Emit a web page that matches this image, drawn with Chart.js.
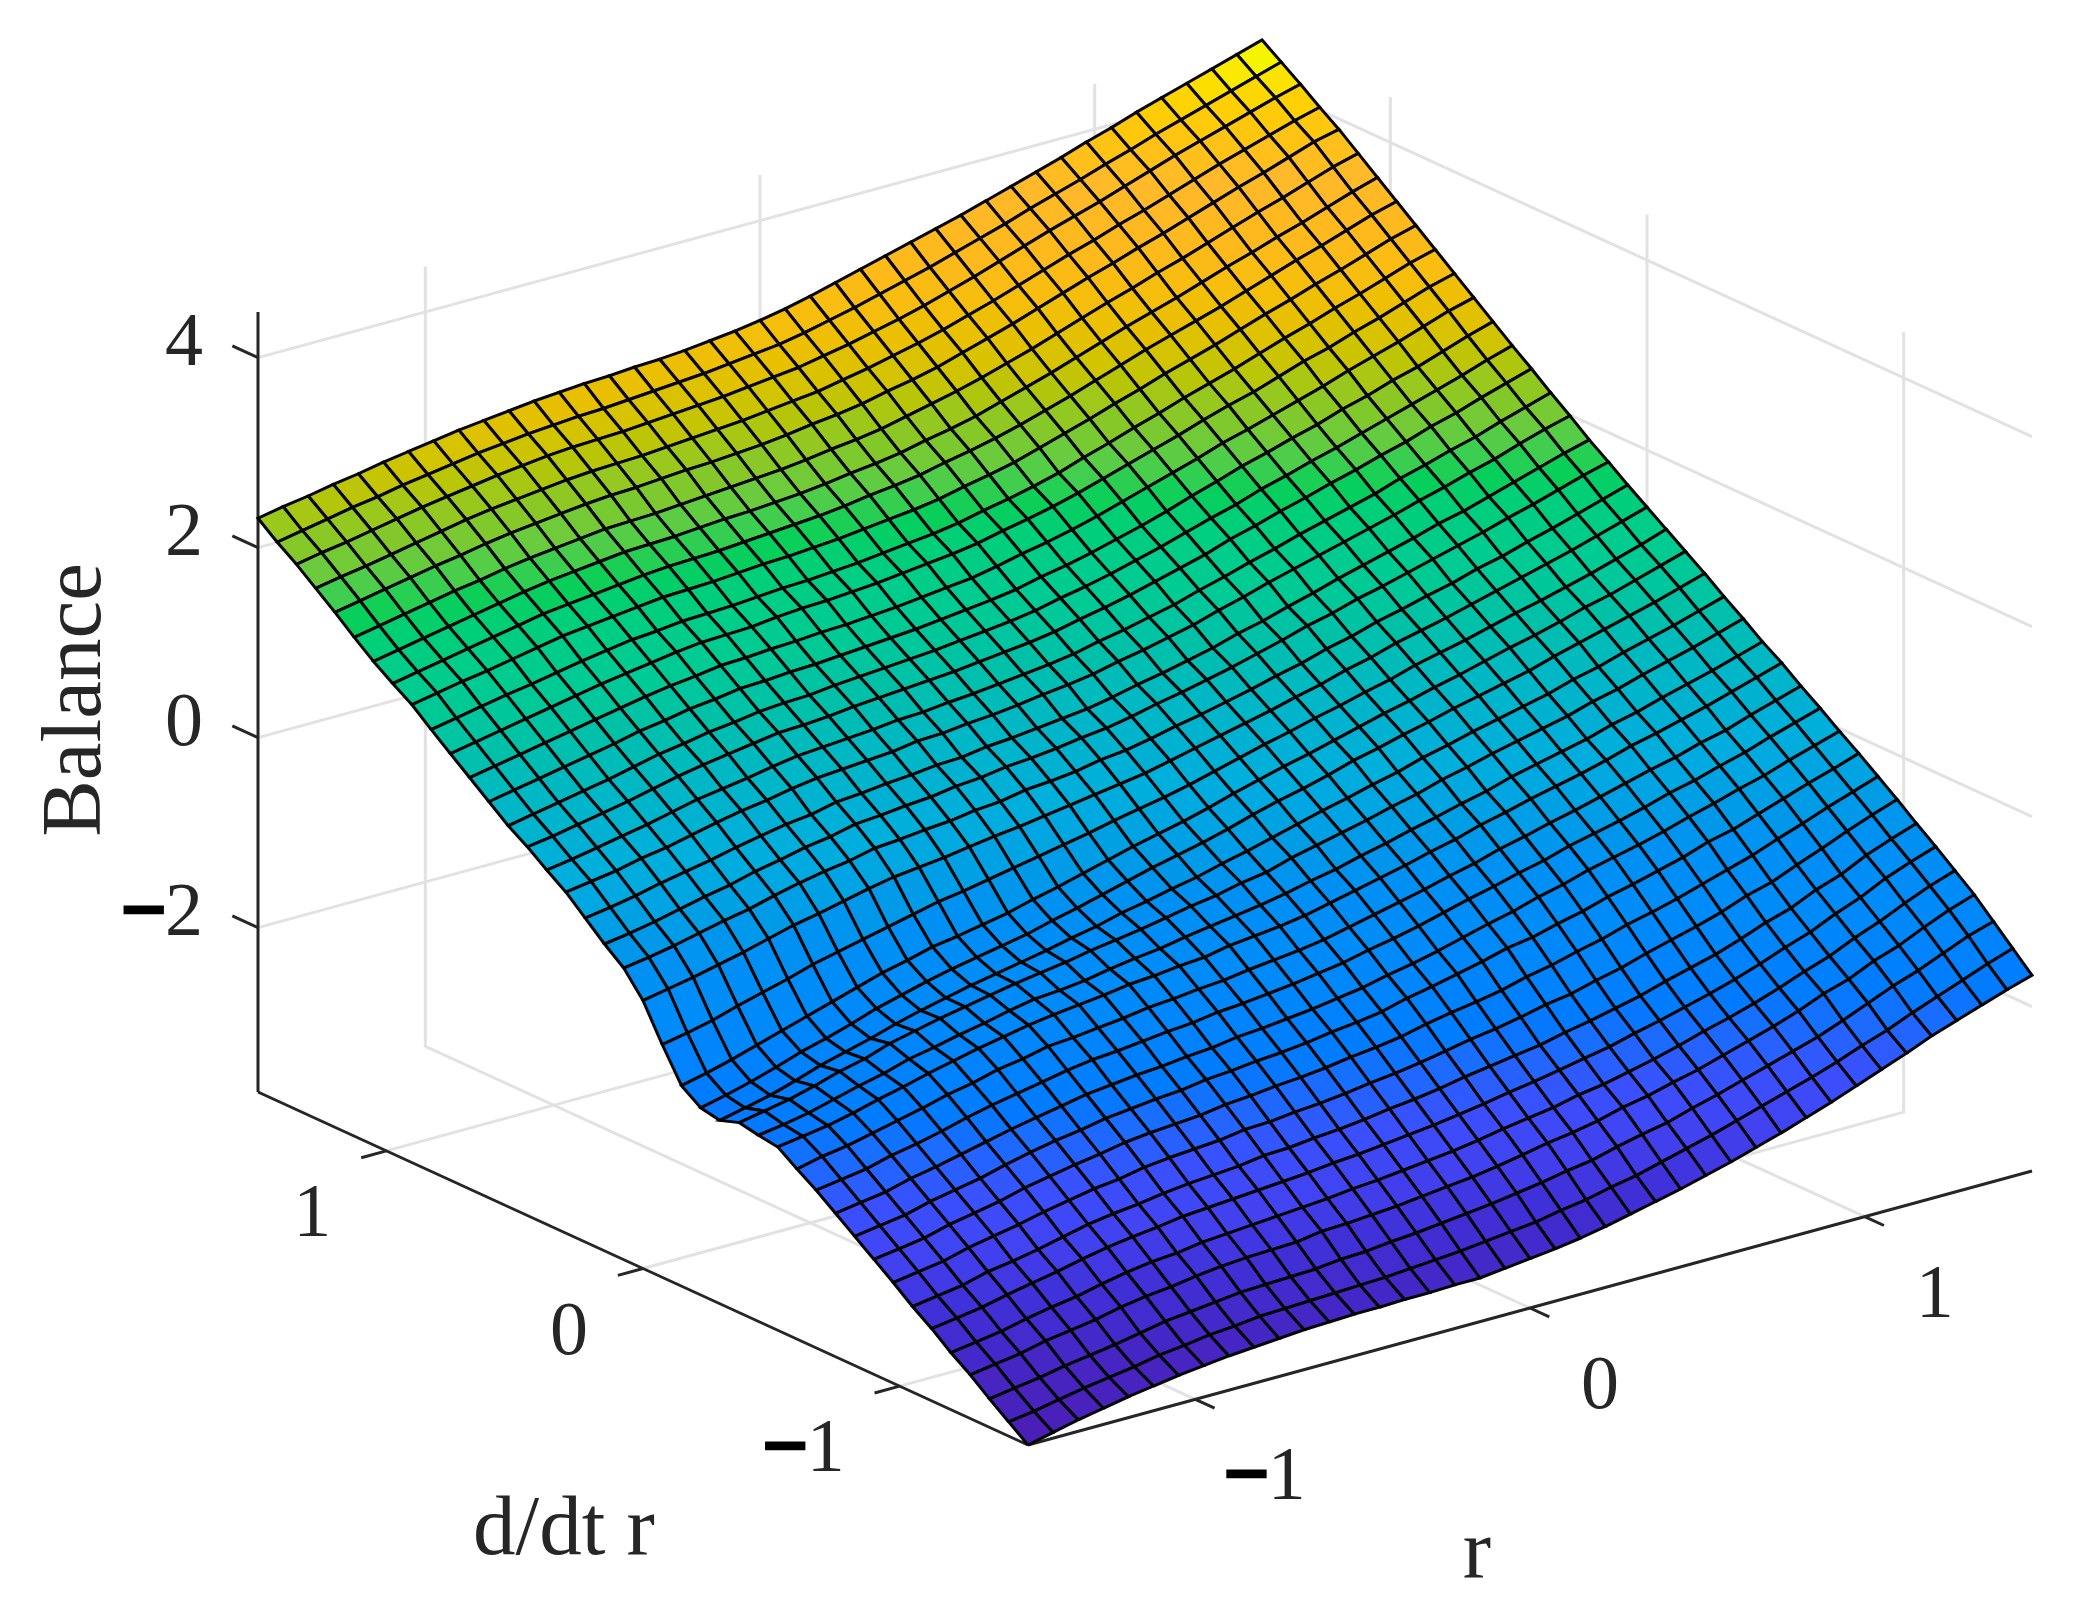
<!DOCTYPE html>
<html>
<head>
<meta charset="utf-8">
<title>Balance surface</title>
<script src="https://cdn.jsdelivr.net/npm/chart.js@4/dist/chart.umd.min.js"></script>
<style>
  html, body { margin: 0; padding: 0; background: #fff; overflow: hidden; }
  #chart { display: block; }
</style>
</head>
<body>
<canvas id="chart" width="2099" height="1611"></canvas>
<script>
const rValues = [-1.5,-1.425,-1.35,-1.275,-1.2,-1.125,-1.05,-0.975,-0.9,-0.825,-0.75,-0.675,-0.6,-0.525,-0.45,-0.375,-0.3,-0.225,-0.15,-0.075,0,0.075,0.15,0.225,0.3,0.375,0.45,0.525,0.6,0.675,0.75,0.825,0.9,0.975,1.05,1.125,1.2,1.275,1.35,1.425,1.5];
const rdotValues = rValues.slice();

// balance[j][i]: j runs along d/dt r, i along r
const balance = [
[-3.73,-3.67,-3.61,-3.56,-3.51,-3.47,-3.43,-3.40,-3.37,-3.35,-3.33,-3.31,-3.30,-3.29,-3.29,-3.28,-3.28,-3.27,-3.27,-3.24,-3.21,-3.18,-3.14,-3.09,-3.03,-2.97,-2.91,-2.84,-2.77,-2.69,-2.61,-2.52,-2.43,-2.33,-2.23,-2.13,-2.02,-1.93,-1.84,-1.75,-1.67],
[-3.58,-3.54,-3.49,-3.44,-3.40,-3.36,-3.31,-3.28,-3.24,-3.22,-3.19,-3.18,-3.17,-3.16,-3.15,-3.14,-3.12,-3.10,-3.08,-3.05,-3.02,-2.99,-2.94,-2.90,-2.84,-2.79,-2.72,-2.65,-2.58,-2.50,-2.42,-2.34,-2.26,-2.17,-2.07,-1.98,-1.87,-1.77,-1.67,-1.57,-1.48],
[-3.43,-3.39,-3.35,-3.30,-3.26,-3.22,-3.17,-3.12,-3.09,-3.06,-3.03,-3.02,-3.01,-3.00,-2.97,-2.96,-2.93,-2.91,-2.88,-2.85,-2.82,-2.78,-2.74,-2.69,-2.65,-2.58,-2.52,-2.47,-2.39,-2.32,-2.24,-2.16,-2.08,-2.00,-1.90,-1.79,-1.68,-1.59,-1.48,-1.37,-1.29],
[-3.27,-3.23,-3.19,-3.13,-3.09,-3.05,-2.99,-2.95,-2.92,-2.88,-2.85,-2.83,-2.82,-2.81,-2.77,-2.76,-2.74,-2.72,-2.69,-2.66,-2.63,-2.59,-2.54,-2.49,-2.45,-2.40,-2.33,-2.28,-2.21,-2.15,-2.07,-1.99,-1.91,-1.82,-1.71,-1.63,-1.51,-1.42,-1.30,-1.19,-1.10],
[-3.13,-3.09,-3.05,-2.99,-2.94,-2.90,-2.84,-2.79,-2.75,-2.73,-2.69,-2.67,-2.65,-2.63,-2.61,-2.59,-2.56,-2.54,-2.51,-2.48,-2.45,-2.41,-2.36,-2.32,-2.28,-2.22,-2.18,-2.12,-2.06,-1.99,-1.91,-1.84,-1.76,-1.67,-1.57,-1.48,-1.36,-1.26,-1.14,-1.03,-0.94],
[-2.97,-2.93,-2.89,-2.83,-2.78,-2.73,-2.67,-2.62,-2.58,-2.55,-2.51,-2.49,-2.47,-2.45,-2.43,-2.41,-2.38,-2.36,-2.33,-2.30,-2.27,-2.23,-2.19,-2.14,-2.10,-2.05,-2.00,-1.95,-1.88,-1.82,-1.75,-1.68,-1.60,-1.51,-1.41,-1.32,-1.20,-1.10,-0.97,-0.87,-0.78],
[-2.83,-2.79,-2.75,-2.68,-2.64,-2.59,-2.53,-2.47,-2.43,-2.40,-2.36,-2.33,-2.31,-2.29,-2.25,-2.24,-2.21,-2.19,-2.16,-2.12,-2.09,-2.05,-2.00,-1.96,-1.92,-1.88,-1.82,-1.77,-1.71,-1.65,-1.57,-1.50,-1.43,-1.34,-1.24,-1.16,-1.04,-0.95,-0.82,-0.72,-0.63],
[-2.67,-2.63,-2.59,-2.52,-2.47,-2.42,-2.36,-2.31,-2.26,-2.23,-2.18,-2.15,-2.13,-2.11,-2.07,-2.06,-2.03,-2.01,-1.98,-1.94,-1.91,-1.87,-1.82,-1.77,-1.73,-1.68,-1.62,-1.58,-1.51,-1.45,-1.37,-1.30,-1.23,-1.15,-1.05,-0.98,-0.87,-0.77,-0.66,-0.56,-0.47],
[-2.52,-2.48,-2.44,-2.37,-2.32,-2.27,-2.20,-2.15,-2.10,-2.06,-2.01,-1.98,-1.96,-1.94,-1.90,-1.88,-1.85,-1.83,-1.80,-1.76,-1.73,-1.69,-1.63,-1.58,-1.54,-1.49,-1.42,-1.37,-1.30,-1.24,-1.16,-1.10,-1.03,-0.95,-0.87,-0.79,-0.69,-0.60,-0.50,-0.41,-0.32],
[-2.37,-2.33,-2.29,-2.22,-2.17,-2.12,-2.05,-1.99,-1.94,-1.90,-1.85,-1.82,-1.79,-1.77,-1.73,-1.71,-1.68,-1.66,-1.63,-1.59,-1.56,-1.52,-1.45,-1.40,-1.34,-1.28,-1.21,-1.17,-1.10,-1.04,-0.96,-0.90,-0.83,-0.76,-0.67,-0.61,-0.52,-0.43,-0.34,-0.26,-0.17],
[-2.22,-2.18,-2.14,-2.07,-2.02,-1.96,-1.90,-1.84,-1.79,-1.74,-1.69,-1.66,-1.63,-1.61,-1.58,-1.56,-1.52,-1.50,-1.47,-1.44,-1.40,-1.36,-1.30,-1.25,-1.19,-1.12,-1.05,-0.99,-0.91,-0.85,-0.77,-0.71,-0.65,-0.58,-0.50,-0.43,-0.35,-0.28,-0.19,-0.11,-0.03],
[-2.07,-2.03,-1.99,-1.92,-1.87,-1.81,-1.74,-1.68,-1.63,-1.58,-1.53,-1.49,-1.47,-1.44,-1.41,-1.39,-1.35,-1.33,-1.30,-1.27,-1.23,-1.19,-1.13,-1.08,-1.02,-0.95,-0.88,-0.82,-0.75,-0.69,-0.61,-0.55,-0.49,-0.42,-0.34,-0.28,-0.20,-0.13,-0.04,0.04,0.12],
[-1.94,-1.88,-1.84,-1.78,-1.72,-1.66,-1.59,-1.54,-1.47,-1.43,-1.37,-1.35,-1.32,-1.29,-1.25,-1.23,-1.20,-1.18,-1.14,-1.11,-1.08,-1.04,-0.98,-0.92,-0.86,-0.80,-0.73,-0.67,-0.59,-0.53,-0.46,-0.40,-0.33,-0.26,-0.19,-0.13,-0.05,0.01,0.10,0.18,0.26],
[-1.80,-1.76,-1.72,-1.66,-1.59,-1.53,-1.46,-1.40,-1.34,-1.29,-1.24,-1.20,-1.17,-1.14,-1.10,-1.08,-1.05,-1.03,-0.98,-0.95,-0.92,-0.88,-0.82,-0.76,-0.70,-0.64,-0.57,-0.51,-0.43,-0.37,-0.30,-0.24,-0.18,-0.11,-0.03,0.03,0.10,0.17,0.25,0.33,0.41],
[-1.77,-1.73,-1.68,-1.61,-1.54,-1.48,-1.40,-1.35,-1.29,-1.24,-1.18,-1.13,-1.11,-1.08,-1.03,-0.99,-0.96,-0.91,-0.87,-0.83,-0.79,-0.74,-0.68,-0.63,-0.56,-0.50,-0.43,-0.37,-0.30,-0.24,-0.16,-0.10,-0.04,0.02,0.10,0.16,0.24,0.31,0.38,0.46,0.54],
[-1.73,-1.68,-1.63,-1.56,-1.48,-1.42,-1.33,-1.27,-1.21,-1.16,-1.11,-1.06,-1.02,-0.98,-0.93,-0.89,-0.85,-0.80,-0.75,-0.71,-0.65,-0.61,-0.53,-0.47,-0.41,-0.35,-0.28,-0.22,-0.14,-0.08,-0.01,0.05,0.11,0.17,0.25,0.31,0.39,0.46,0.53,0.61,0.69],
[-1.80,-1.74,-1.68,-1.60,-1.51,-1.44,-1.37,-1.29,-1.22,-1.16,-1.10,-1.05,-1.00,-0.95,-0.89,-0.84,-0.77,-0.72,-0.66,-0.61,-0.54,-0.48,-0.41,-0.34,-0.27,-0.21,-0.14,-0.08,0.00,0.06,0.13,0.19,0.25,0.31,0.39,0.45,0.53,0.60,0.67,0.75,0.83],
[-1.76,-1.70,-1.63,-1.55,-1.46,-1.39,-1.31,-1.22,-1.15,-1.08,-1.02,-0.97,-0.92,-0.87,-0.80,-0.74,-0.67,-0.60,-0.53,-0.47,-0.41,-0.34,-0.26,-0.19,-0.13,-0.06,0.02,0.08,0.15,0.21,0.28,0.34,0.40,0.46,0.54,0.61,0.68,0.75,0.82,0.90,0.98],
[-1.62,-1.56,-1.49,-1.41,-1.33,-1.25,-1.17,-1.09,-1.01,-0.95,-0.88,-0.84,-0.79,-0.74,-0.67,-0.61,-0.54,-0.47,-0.40,-0.34,-0.28,-0.21,-0.13,-0.06,0.01,0.07,0.14,0.21,0.28,0.34,0.41,0.47,0.54,0.61,0.67,0.74,0.82,0.88,0.96,1.04,1.12],
[-1.28,-1.23,-1.17,-1.09,-1.02,-0.95,-0.87,-0.81,-0.75,-0.69,-0.63,-0.57,-0.53,-0.48,-0.43,-0.38,-0.33,-0.28,-0.22,-0.17,-0.12,-0.06,0.01,0.08,0.15,0.21,0.28,0.34,0.41,0.47,0.55,0.61,0.67,0.74,0.81,0.87,0.94,1.01,1.09,1.17,1.26],
[-0.91,-0.86,-0.81,-0.75,-0.69,-0.62,-0.55,-0.50,-0.44,-0.38,-0.33,-0.30,-0.27,-0.23,-0.19,-0.16,-0.12,-0.08,-0.04,0.00,0.04,0.10,0.16,0.22,0.28,0.34,0.41,0.47,0.55,0.61,0.69,0.75,0.81,0.88,0.95,1.02,1.09,1.16,1.24,1.32,1.40],
[-0.66,-0.62,-0.57,-0.51,-0.45,-0.40,-0.33,-0.27,-0.22,-0.18,-0.12,-0.10,-0.07,-0.05,-0.01,0.01,0.06,0.08,0.11,0.16,0.19,0.24,0.30,0.35,0.41,0.47,0.54,0.60,0.68,0.74,0.82,0.88,0.95,1.01,1.09,1.15,1.23,1.30,1.38,1.46,1.54],
[-0.50,-0.46,-0.41,-0.35,-0.29,-0.24,-0.17,-0.12,-0.06,-0.02,0.04,0.06,0.09,0.11,0.15,0.17,0.21,0.23,0.26,0.30,0.33,0.38,0.44,0.49,0.55,0.61,0.68,0.75,0.83,0.89,0.97,1.03,1.10,1.17,1.24,1.31,1.39,1.46,1.54,1.62,1.69],
[-0.32,-0.28,-0.23,-0.17,-0.12,-0.07,-0.01,0.04,0.09,0.12,0.18,0.20,0.23,0.25,0.28,0.29,0.33,0.35,0.38,0.41,0.44,0.49,0.55,0.60,0.66,0.72,0.80,0.86,0.94,1.01,1.09,1.16,1.23,1.30,1.38,1.44,1.52,1.60,1.68,1.76,1.83],
[-0.14,-0.10,-0.06,0.00,0.04,0.10,0.16,0.21,0.25,0.30,0.34,0.36,0.38,0.40,0.44,0.45,0.48,0.50,0.53,0.57,0.60,0.64,0.70,0.75,0.81,0.87,0.95,1.02,1.10,1.17,1.24,1.31,1.38,1.45,1.53,1.60,1.68,1.75,1.84,1.92,1.99],
[0.00,0.04,0.09,0.14,0.19,0.25,0.31,0.35,0.39,0.44,0.48,0.50,0.52,0.54,0.57,0.58,0.61,0.63,0.66,0.69,0.72,0.76,0.82,0.87,0.93,0.99,1.07,1.14,1.22,1.29,1.37,1.44,1.51,1.58,1.67,1.74,1.82,1.89,1.98,2.06,2.14],
[0.15,0.19,0.24,0.29,0.34,0.40,0.46,0.51,0.55,0.59,0.63,0.64,0.66,0.69,0.71,0.73,0.75,0.77,0.80,0.83,0.86,0.90,0.96,1.01,1.07,1.14,1.21,1.28,1.37,1.44,1.52,1.59,1.67,1.74,1.82,1.89,1.98,2.05,2.14,2.22,2.30],
[0.28,0.33,0.38,0.43,0.48,0.54,0.60,0.64,0.69,0.72,0.76,0.78,0.79,0.82,0.84,0.86,0.88,0.90,0.93,0.96,0.99,1.03,1.09,1.14,1.20,1.27,1.34,1.42,1.50,1.57,1.66,1.73,1.81,1.88,1.96,2.04,2.12,2.20,2.28,2.37,2.45],
[0.44,0.49,0.54,0.59,0.64,0.69,0.75,0.79,0.84,0.87,0.91,0.92,0.94,0.95,0.97,0.99,1.01,1.03,1.06,1.09,1.12,1.16,1.22,1.27,1.33,1.40,1.47,1.55,1.64,1.72,1.81,1.88,1.96,2.03,2.12,2.19,2.28,2.35,2.44,2.53,2.61],
[0.60,0.65,0.70,0.75,0.80,0.85,0.90,0.95,0.99,1.02,1.06,1.07,1.09,1.10,1.12,1.13,1.15,1.17,1.20,1.23,1.26,1.31,1.37,1.42,1.48,1.55,1.63,1.71,1.79,1.87,1.96,2.03,2.11,2.19,2.27,2.36,2.44,2.52,2.61,2.70,2.77],
[0.76,0.81,0.86,0.91,0.96,1.01,1.06,1.10,1.14,1.18,1.21,1.22,1.23,1.26,1.28,1.29,1.31,1.33,1.36,1.39,1.42,1.46,1.52,1.57,1.63,1.70,1.78,1.86,1.94,2.02,2.11,2.19,2.26,2.35,2.44,2.51,2.60,2.68,2.77,2.86,2.93],
[0.92,0.97,1.02,1.07,1.11,1.16,1.21,1.25,1.29,1.31,1.34,1.35,1.36,1.38,1.40,1.41,1.43,1.45,1.48,1.51,1.54,1.58,1.64,1.69,1.75,1.82,1.91,1.99,2.08,2.16,2.25,2.33,2.41,2.50,2.59,2.67,2.76,2.84,2.93,3.02,3.09],
[1.09,1.14,1.19,1.23,1.28,1.33,1.38,1.41,1.44,1.47,1.50,1.51,1.52,1.54,1.56,1.57,1.59,1.61,1.64,1.67,1.70,1.74,1.80,1.85,1.91,1.99,2.07,2.15,2.24,2.32,2.41,2.49,2.57,2.66,2.75,2.83,2.92,3.00,3.09,3.18,3.25],
[1.22,1.27,1.32,1.37,1.42,1.47,1.52,1.55,1.58,1.61,1.64,1.66,1.67,1.68,1.70,1.72,1.74,1.76,1.79,1.83,1.86,1.90,1.96,2.01,2.07,2.14,2.22,2.30,2.39,2.48,2.57,2.65,2.73,2.81,2.90,2.99,3.08,3.16,3.25,3.34,3.41],
[1.36,1.41,1.46,1.51,1.56,1.61,1.66,1.70,1.73,1.76,1.79,1.80,1.81,1.83,1.85,1.86,1.88,1.90,1.93,1.97,2.00,2.04,2.10,2.15,2.21,2.29,2.37,2.45,2.54,2.63,2.72,2.80,2.88,2.97,3.06,3.14,3.23,3.31,3.40,3.49,3.57],
[1.52,1.57,1.62,1.67,1.72,1.76,1.81,1.85,1.88,1.91,1.94,1.95,1.96,1.98,2.00,2.02,2.04,2.06,2.09,2.13,2.16,2.20,2.26,2.32,2.38,2.45,2.53,2.61,2.70,2.79,2.88,2.96,3.05,3.13,3.22,3.31,3.40,3.48,3.57,3.66,3.73],
[1.69,1.74,1.79,1.84,1.89,1.93,1.98,2.02,2.05,2.08,2.11,2.13,2.14,2.16,2.18,2.19,2.21,2.23,2.26,2.30,2.33,2.37,2.43,2.48,2.54,2.62,2.70,2.78,2.87,2.96,3.05,3.13,3.22,3.30,3.39,3.48,3.57,3.65,3.74,3.83,3.89],
[1.85,1.90,1.94,1.99,2.04,2.09,2.14,2.18,2.21,2.24,2.27,2.29,2.30,2.31,2.33,2.35,2.37,2.39,2.42,2.45,2.48,2.53,2.58,2.64,2.70,2.77,2.85,2.93,3.02,3.11,3.20,3.28,3.37,3.45,3.54,3.63,3.72,3.80,3.88,3.96,4.03],
[2.01,2.06,2.10,2.15,2.20,2.25,2.29,2.33,2.37,2.40,2.43,2.45,2.46,2.47,2.49,2.51,2.53,2.55,2.58,2.61,2.64,2.69,2.74,2.80,2.86,2.93,3.01,3.09,3.18,3.27,3.36,3.44,3.52,3.61,3.70,3.79,3.87,3.95,4.03,4.11,4.18],
[2.15,2.20,2.25,2.30,2.34,2.39,2.43,2.47,2.51,2.54,2.57,2.59,2.61,2.62,2.64,2.66,2.68,2.70,2.73,2.76,2.79,2.84,2.90,2.96,3.03,3.10,3.17,3.25,3.33,3.41,3.50,3.58,3.66,3.75,3.83,3.92,4.00,4.08,4.16,4.24,4.32],
[2.31,2.36,2.40,2.45,2.49,2.54,2.58,2.62,2.66,2.69,2.72,2.75,2.77,2.79,2.80,2.82,2.83,2.85,2.88,2.91,2.95,3.00,3.06,3.13,3.20,3.27,3.34,3.41,3.48,3.56,3.64,3.72,3.80,3.89,3.97,4.06,4.14,4.22,4.30,4.38,4.46],
];

const rTicks = [-1, 0, 1];
const rdotTicks = [-1, 0, 1];
const zTicks = [-2, 0, 2, 4];
const rTickLabels = ["\u22121", "0", "1"];
const rdotTickLabels = ["\u22121", "0", "1"];
const zTickLabels = ["\u22122", "0", "2", "4"];

// colour of a face against its mean height
const colorStops = [-3.62,-3.19,-2.87,-2.55,-2.23,-1.91,-1.70,-1.10,-0.73,-0.54,-0.37,-0.19,-0.02,0.14,0.28,0.44,0.59,0.75,0.91,1.06,1.21,1.34,1.49,1.65,1.81,1.96,2.11,2.26,2.35,2.5,2.7,2.95,3.2,3.6,3.9,4.1,4.36];
const colorValues = ["#4a1fb8","#4428c8","#4030d8","#4242f0","#3a50ff","#1a6cff","#007cff","#008cf8","#0090f4","#0098ea","#00a0e4","#00a8e0","#00b0dc","#00b0d4","#00b4cc","#00b8c4","#00bcb8","#00c0a8","#00c59f","#00ca94","#00cc8f","#00cd85","#00cf78","#08cf58","#45ce4e","#6ccb3c","#85c828","#9cc81c","#b4c60a","#d0c400","#e8c000","#f8be0e","#feb91c","#ffb92a","#ffc510","#ffd200","#f6f600"];

const zMin = -3.73;
const zMax = 4.48;
const axisMin = -1.5;
const axisMax = 1.5;

// fixed orthographic view of the box, in canvas pixels
function project(r, rdot, z) {
  const u = (r - axisMin) / (axisMax - axisMin);
  const v = (rdot - axisMin) / (axisMax - axisMin);
  return {
    x: 1028 + 1004 * u - 770 * v,
    y: 1445 - 274 * u - 353 * v - 95 * (z - zMin),
  };
}

function hexToRgb(h) {
  return [1, 3, 5].map((k) => parseInt(h.slice(k, k + 2), 16));
}

function faceColor(z) {
  if (z <= colorStops[0]) return colorValues[0];
  for (let k = 1; k < colorStops.length; k++) {
    if (z <= colorStops[k]) {
      const t = (z - colorStops[k - 1]) / (colorStops[k] - colorStops[k - 1]);
      const a = hexToRgb(colorValues[k - 1]);
      const b = hexToRgb(colorValues[k]);
      const c = a.map((p, n) => Math.round(p + (b[n] - p) * t));
      return `rgb(${c[0]},${c[1]},${c[2]})`;
    }
  }
  return colorValues[colorValues.length - 1];
}

function line(points, color, width) {
  return {
    data: points.map((p) => project(p[0], p[1], p[2])),
    showLine: true,
    borderColor: color,
    borderWidth: width,
    pointRadius: 0,
    fill: false,
    tension: 0,
  };
}

const datasets = [];

// surface faces: near ones first, chart.js paints the first dataset last
for (let i = 0; i < rValues.length - 1; i++) {
  for (let j = 0; j < rdotValues.length - 1; j++) {
    const zs = [balance[j][i], balance[j][i + 1], balance[j + 1][i + 1], balance[j + 1][i]];
    const mean = (zs[0] + zs[1] + zs[2] + zs[3]) / 4;
    const corners = [
      project(rValues[i], rdotValues[j], zs[0]),
      project(rValues[i + 1], rdotValues[j], zs[1]),
      project(rValues[i + 1], rdotValues[j + 1], zs[2]),
      project(rValues[i], rdotValues[j + 1], zs[3]),
      project(rValues[i], rdotValues[j], zs[0]),
    ];
    datasets.push({
      data: corners,
      showLine: true,
      borderColor: "#050505",
      backgroundColor: faceColor(mean),
      borderWidth: 3,
      pointRadius: 0,
      fill: "shape",
      tension: 0,
    });
  }
}

const AXIS = "#262626";
const GRID = "#e2e2e2";

// axes and tick marks
datasets.push(line([[axisMin, axisMax, zMin], [axisMin, axisMax, zMax]], AXIS, 3));
datasets.push(line([[axisMin, axisMin, zMin], [axisMin, axisMax, zMin]], AXIS, 3));
datasets.push(line([[axisMin, axisMin, zMin], [axisMax, axisMin, zMin]], AXIS, 3));
for (const z of zTicks) {
  datasets.push(line([[axisMin, axisMax, z], [axisMin, axisMax + 0.1, z]], AXIS, 3));
}
for (const t of rdotTicks) {
  datasets.push(line([[axisMin, t, zMin], [axisMin - 0.075, t, zMin]], AXIS, 3));
}
for (const t of rTicks) {
  datasets.push(line([[t, axisMin, zMin], [t, axisMin - 0.075, zMin]], AXIS, 3));
}

// box grid behind the surface
for (const z of zTicks) {
  datasets.push(line([[axisMin, axisMax, z], [axisMax, axisMax, z], [axisMax, axisMin, z]], GRID, 3));
}
for (const t of rTicks) {
  datasets.push(line([[t, axisMax, zMax], [t, axisMax, zMin], [t, axisMin, zMin]], GRID, 3));
}
for (const t of rdotTicks) {
  datasets.push(line([[axisMax, t, zMax], [axisMax, t, zMin], [axisMin, t, zMin]], GRID, 3));
}

function drawTickLabel(ctx, text, x, y, align) {
  ctx.textAlign = align;
  ctx.fillStyle = AXIS;
  ctx.fillText(text, x, y);
  if (text[0] === "\u2212") {
    // the minus sign is a heavy bar in the original
    const w = ctx.measureText(text).width;
    const left = align === "right" ? x - w : align === "center" ? x - w / 2 : x;
    ctx.textAlign = "left";
    ctx.strokeStyle = "#000";
    ctx.lineWidth = 5;
    ctx.strokeText("\u2212", left, y);
  }
}

const boxLabels = {
  id: "boxLabels",
  afterDraw(chart) {
    const { ctx, scales } = chart;
    const px = (p) => ({ x: scales.x.getPixelForValue(p.x), y: scales.y.getPixelForValue(p.y) });
    ctx.save();
    ctx.textBaseline = "alphabetic";
    ctx.font = '76px "Liberation Serif"';
    zTicks.forEach((z, k) => {
      const p = px(project(axisMin, axisMax, z));
      drawTickLabel(ctx, zTickLabels[k], p.x - 55, p.y + 7, "right");
    });
    rdotTicks.forEach((t, k) => {
      const p = px(project(axisMin, t, zMin));
      drawTickLabel(ctx, rdotTickLabels[k], p.x - 55, p.y + 85, "right");
    });
    rTicks.forEach((t, k) => {
      const p = px(project(t, axisMin, zMin));
      drawTickLabel(ctx, rTickLabels[k], p.x + 70, p.y + 100, "center");
    });
    ctx.font = '85px "Liberation Serif"';
    ctx.fillStyle = AXIS;
    ctx.textAlign = "center";
    ctx.fillText("d/dt r", 564, 1554);
    ctx.fillText("r", 1477, 1577);
    ctx.translate(100, 700);
    ctx.rotate(-Math.PI / 2);
    ctx.fillText("Balance", 0, 0);
    ctx.restore();
  },
};

new Chart(document.getElementById("chart"), {
  type: "scatter",
  data: { datasets },
  plugins: [boxLabels],
  options: {
    responsive: false,
    animation: false,
    events: [],
    layout: { padding: 0 },
    plugins: { legend: { display: false }, tooltip: { enabled: false }, title: { display: false } },
    scales: {
      x: { type: "linear", min: 0, max: 2099, display: false },
      y: { type: "linear", min: 0, max: 1611, reverse: true, display: false },
    },
  },
});
</script>
</body>
</html>
